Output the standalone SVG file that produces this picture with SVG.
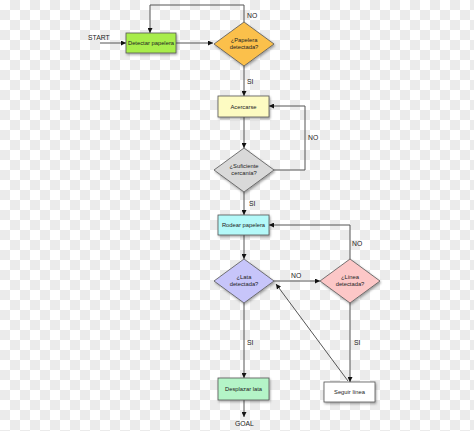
<svg xmlns="http://www.w3.org/2000/svg" width="474" height="431" viewBox="0 0 474 431">
<defs>
<pattern id="chk" x="0" y="0" width="20" height="20" patternUnits="userSpaceOnUse">
<rect width="20" height="20" fill="#ffffff"/>
<rect x="10" y="0" width="10" height="10" fill="#ebebeb"/>
<rect x="0" y="10" width="10" height="10" fill="#ebebeb"/>
</pattern>
<filter id="sh" x="-20%" y="-20%" width="150%" height="160%">
<feDropShadow dx="1" dy="1.5" stdDeviation="1" flood-color="#000" flood-opacity="0.35"/>
</filter>
<marker id="ah" viewBox="0 0 10 10" refX="10" refY="5" markerWidth="5" markerHeight="5" orient="auto" markerUnits="userSpaceOnUse">
<path d="M0,0 L10,5 L0,10 z" fill="#111"/>
</marker>
<style>
.n{stroke:#555;stroke-width:0.8;filter:url(#sh)}
.t{font-family:"Liberation Sans",Arial,sans-serif;font-size:5.8px;fill:#222;text-anchor:middle}
.l{font-family:"Liberation Sans",Arial,sans-serif;font-size:6.8px;fill:#222}
.c{fill:none;stroke:#555;stroke-width:1}
</style>
</defs>
<rect width="474" height="431" fill="url(#chk)"/>
<g id="connectors">
<path class="c" d="M100,43 L126,43" marker-end="url(#ah)"/>
<path class="c" d="M176,43 L213,43" marker-end="url(#ah)"/>
<path class="c" d="M244,22 L244,5 L150,5 L150,33" marker-end="url(#ah)"/>
<path class="c" d="M244,66 L244,96" marker-end="url(#ah)"/>
<path class="c" d="M244,117 L244,148" marker-end="url(#ah)"/>
<path class="c" d="M274,170 L305,170 L305,106 L269,106" marker-end="url(#ah)"/>
<path class="c" d="M244,192 L244,215" marker-end="url(#ah)"/>
<path class="c" d="M244,235 L244,259" marker-end="url(#ah)"/>
<path class="c" d="M274,281 L320,281" marker-end="url(#ah)"/>
<path class="c" d="M350,259 L350,225 L269,225" marker-end="url(#ah)"/>
<path class="c" d="M244,303 L244,378" marker-end="url(#ah)"/>
<path class="c" d="M350,303 L350,382" marker-end="url(#ah)"/>
<path class="c" d="M348,381 L276,284" marker-end="url(#ah)"/>
<path class="c" d="M244,400 L244,417" marker-end="url(#ah)"/>
<text class="l" x="88" y="39.5">START</text>
<text class="l" x="247" y="18">NO</text>
<text class="l" x="247" y="83.5">SI</text>
<text class="l" x="308" y="139.5">NO</text>
<text class="l" x="249" y="205.5">SI</text>
<text class="l" x="352" y="245.5">NO</text>
<text class="l" x="291" y="278">NO</text>
<text class="l" x="247" y="344.5">SI</text>
<text class="l" x="354" y="345">SI</text>
<text class="l" x="235" y="426">GOAL</text>
</g>
<g id="detectar">
<rect class="n" x="126" y="33" width="50" height="20" fill="#a8ed4b"/>
<text class="t" x="151" y="45">Detectar papelera</text>
</g>
<g id="papelera-detectada">
<polygon class="n" points="244,22 274,44 244,66 214,44" fill="#fbc04c"/>
<text class="t" x="244" y="42">¿Papelera</text>
<text class="t" x="244" y="49">detectada?</text>
</g>
<g id="acercarse">
<rect class="n" x="218" y="96" width="51" height="21" fill="#fdfbc2"/>
<text class="t" x="243.5" y="108.5">Acercarse</text>
</g>
<g id="suficiente">
<polygon class="n" points="244,148 274,170 244,192 214,170" fill="#d9d9d9"/>
<text class="t" x="244" y="168">¿Suficiente</text>
<text class="t" x="244" y="175">cercanía?</text>
</g>
<g id="rodear">
<rect class="n" x="218" y="215" width="51" height="20" fill="#b4f9f9"/>
<text class="t" x="243.5" y="227">Rodear papelera</text>
</g>
<g id="lata-detectada">
<polygon class="n" points="244,259 274,281 244,303 214,281" fill="#c7c5fa"/>
<text class="t" x="244" y="279">¿Lata</text>
<text class="t" x="244" y="286">detectada?</text>
</g>
<g id="linea-detectada">
<polygon class="n" points="350,259 380,281 350,303 320,281" fill="#fcc7c7"/>
<text class="t" x="350" y="279">¿Línea</text>
<text class="t" x="350" y="286">detectada?</text>
</g>
<g id="desplazar">
<rect class="n" x="218" y="378" width="51" height="22" fill="#b4f4c7"/>
<text class="t" x="243.5" y="391">Desplazar lata</text>
</g>
<g id="seguir">
<rect class="n" x="324" y="382" width="51" height="20" fill="#ffffff"/>
<text class="t" x="349.5" y="394">Seguir línea</text>
</g>
</svg>
